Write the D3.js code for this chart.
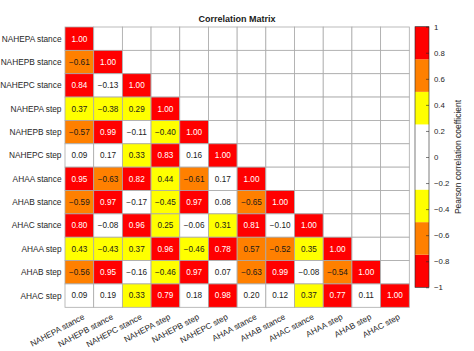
<!DOCTYPE html>
<html>
<head>
<meta charset="utf-8">
<script src="https://cdn.jsdelivr.net/npm/d3@7"></script>
<style>
  body { margin: 0; background: #fff; }
  svg text { font-family: "Liberation Sans", Arial, sans-serif; }
</style>
</head>
<body>
<div id="chart"></div>
<script>
// variable names, same order for rows and columns
const names = ['NAHEPA stance', 'NAHEPB stance', 'NAHEPC stance', 'NAHEPA step', 'NAHEPB step', 'NAHEPC step',
  'AHAA stance', 'AHAB stance', 'AHAC stance', 'AHAA step', 'AHAB step', 'AHAC step']

// lower triangle of the correlation matrix, row by row
const rows = [
  [1.00],
  [-0.61, 1.00],
  [0.84, -0.13, 1.00],
  [0.37, -0.38, 0.29, 1.00],
  [-0.57, 0.99, -0.11, -0.40, 1.00],
  [0.09, 0.17, 0.33, 0.83, 0.16, 1.00],
  [0.95, -0.63, 0.82, 0.44, -0.61, 0.17, 1.00],
  [-0.59, 0.97, -0.17, -0.45, 0.97, 0.08, -0.65, 1.00],
  [0.80, -0.08, 0.96, 0.254, -0.06, 0.31, 0.81, -0.10, 1.00],
  [0.43, -0.43, 0.37, 0.96, -0.46, 0.78, 0.57, -0.52, 0.35, 1.00],
  [-0.56, 0.95, -0.16, -0.46, 0.97, 0.07, -0.63, 0.99, -0.08, -0.54, 1.00],
  [0.09, 0.19, 0.33, 0.79, 0.18, 0.98, 0.20, 0.12, 0.37, 0.77, 0.11, 1.00]
]

// colour bands of the colorbar
const breaks = [-0.75, -0.5, -0.25, 0.25, 0.5, 0.75]
const bandColors = ['#ff0000', '#ff8000', '#ffff00', '#ffffff', '#ffff00', '#ff8000', '#ff0000']
const cbTicks = [1, 0.8, 0.6, 0.4, 0.2, 0, -0.2, -0.4, -0.6, -0.8, -1]

const width = 474
const height = 351

const svg = d3.select('#chart')
  .append('svg')
  .attr('width', width)
  .attr('height', height)

const x = d3.scaleBand().domain(names).range([65, 409.3])
const y = d3.scaleBand().domain(names).range([27, 307.3])
const color = d3.scaleThreshold().domain(breaks).range(bandColors)

const cells = []
names.forEach((r, i) => {
  names.forEach((c, j) => {
    cells.push({ row: r, col: c, v: j <= i ? rows[i][j] : null })
  })
})

const grid = svg.append('g')
grid.selectAll('rect')
  .data(cells)
  .join('rect')
  .attr('x', d => x(d.col))
  .attr('y', d => y(d.row))
  .attr('width', x.bandwidth())
  .attr('height', y.bandwidth())
  .attr('fill', d => d.v === null ? '#fff' : color(d.v))
  .attr('stroke', '#aaaaaa')
  .attr('stroke-width', 0.8)

grid.selectAll('text')
  .data(cells.filter(d => d.v !== null))
  .join('text')
  .attr('x', d => x(d.col) + x.bandwidth() / 2)
  .attr('y', d => y(d.row) + y.bandwidth() / 2)
  .attr('dy', '0.35em')
  .attr('text-anchor', 'middle')
  .attr('font-size', 8.2)
  .attr('fill', d => Math.abs(d.v) >= 0.75 ? '#fff' : '#1a1a1a')
  .text(d => d3.format('.2f')(d.v === 0.254 ? 0.25 : d.v))

// row labels
svg.append('g')
  .selectAll('text')
  .data(names)
  .join('text')
  .attr('x', 61.5)
  .attr('y', d => y(d) + y.bandwidth() / 2)
  .attr('dy', '0.35em')
  .attr('text-anchor', 'end')
  .attr('font-size', 8.3)
  .attr('fill', '#262626')
  .text(d => d)

// column labels, slanted
svg.append('g')
  .selectAll('text')
  .data(names)
  .join('text')
  .attr('transform', d => `translate(${x(d) + x.bandwidth() / 2 + 3},${313.5}) rotate(-28)`)
  .attr('dy', '0.7em')
  .attr('text-anchor', 'end')
  .attr('font-size', 8.3)
  .attr('fill', '#262626')
  .text(d => d)

svg.append('text')
  .attr('x', 237)
  .attr('y', 22)
  .attr('text-anchor', 'middle')
  .attr('font-size', 9)
  .attr('font-weight', 'bold')
  .attr('fill', '#1a1a1a')
  .text('Correlation Matrix')

// colorbar
const cb = d3.scaleLinear().domain([-1, 1]).range([287.3, 26.7])
const edges = [-1, ...breaks, 1]
const cbG = svg.append('g')
cbG.selectAll('rect')
  .data(bandColors)
  .join('rect')
  .attr('x', 415)
  .attr('width', 14)
  .attr('y', (d, i) => cb(edges[i + 1]))
  .attr('height', (d, i) => cb(edges[i]) - cb(edges[i + 1]))
  .attr('fill', d => d)

cbG.append('rect')
  .attr('x', 415).attr('y', cb(1))
  .attr('width', 14).attr('height', cb(-1) - cb(1))
  .attr('fill', 'none')
  .attr('stroke', '#262626')
  .attr('stroke-width', 0.6)

const cbAxis = d3.axisRight(cb).tickValues(cbTicks).tickSize(-3).tickPadding(5)
  .tickFormat(d => d3.format('')(d))
cbG.append('g')
  .attr('transform', 'translate(429,0)')
  .call(cbAxis)
  .call(g => g.select('.domain').remove())
  .call(g => g.selectAll('line').attr('stroke', '#262626').attr('stroke-width', 0.6))
  .call(g => g.selectAll('text').attr('font-size', 7.8).attr('fill', '#262626')
    .attr('font-family', '"Liberation Sans", Arial, sans-serif'))

svg.append('text')
  .attr('transform', `translate(461,${cb(0)}) rotate(-90)`)
  .attr('text-anchor', 'middle')
  .attr('font-size', 8.5)
  .attr('fill', '#262626')
  .text('Pearson correlation coefficient')
</script>
</body>
</html>
